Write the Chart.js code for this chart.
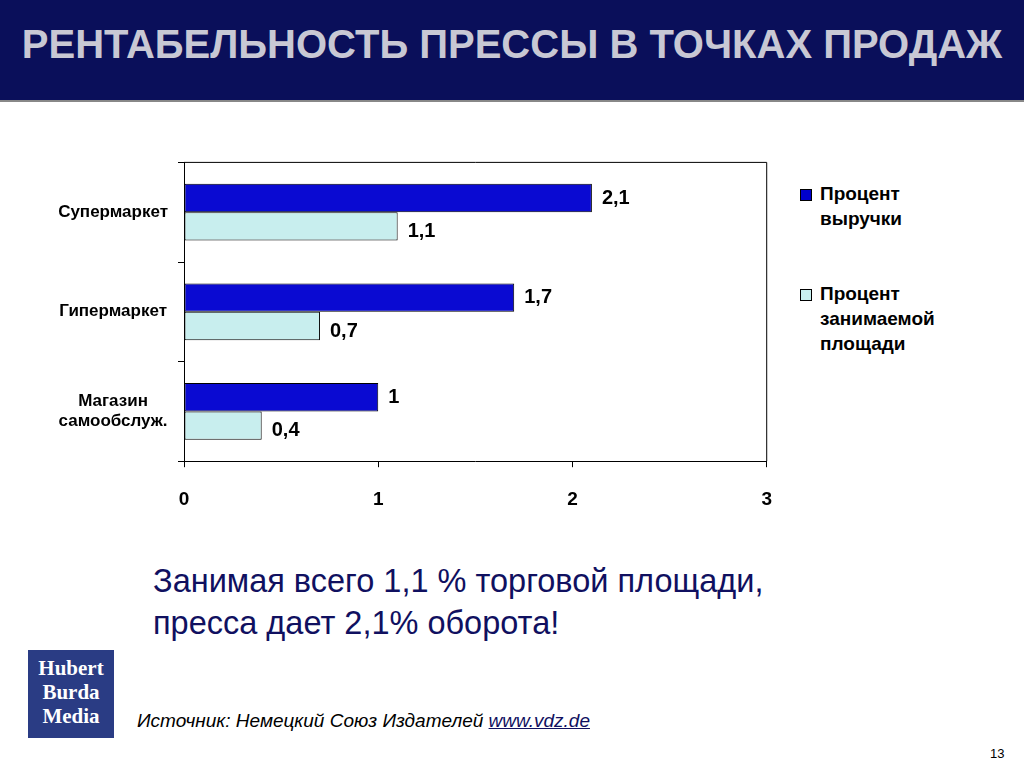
<!DOCTYPE html>
<html><head><meta charset="utf-8">
<script src="https://cdn.jsdelivr.net/npm/chart.js@4"></script>
<style>
body{margin:0;width:1024px;height:768px;background:#fff;font-family:"Liberation Sans",Arial,sans-serif;position:relative;overflow:hidden}
#head{position:absolute;left:0;top:0;width:1024px;height:100px;background:#0a0f5a;border-bottom:2px solid #888}
#head div{position:absolute;left:0;width:1024px;top:22px;text-align:center;color:#c8c8d4;font-weight:bold;font-size:40px}
#wrap{position:absolute;left:20px;top:132px;width:773px;height:400px}
#legend{position:absolute;left:800px;top:181px;font-weight:bold;font-size:19px;line-height:25px;color:#000}
.it{position:relative;padding-left:20px;margin-bottom:50px}
.sw{position:absolute;left:0;top:8px;width:10px;height:10px;border:1px solid #000}
#note{position:absolute;left:153px;top:560px;font-size:32.5px;line-height:42px;color:#101060}
#logo{position:absolute;left:28px;top:650px;width:86px;height:88px;background:#2a3c84;color:#fff;font-family:"Liberation Serif",serif;font-weight:bold;font-size:21px;line-height:24px;text-align:center;padding-top:6px;box-sizing:border-box}
#src{position:absolute;left:137px;top:710px;font-style:italic;font-size:19px;color:#000}
#src u{color:#101060}
#pg{position:absolute;left:990px;top:746px;font-size:13px}
</style></head><body>
<div id="head"><div>РЕНТАБЕЛЬНОСТЬ ПРЕССЫ В ТОЧКАХ ПРОДАЖ</div></div>
<div id="wrap"><canvas id="c" width="773" height="400"></canvas></div>
<div id="legend">
<div class="it"><span class="sw" style="background:#0000cc"></span>Процент<br>выручки</div>
<div class="it"><span class="sw" style="background:#c8f0f0"></span>Процент<br>занимаемой<br>площади</div>
</div>
<div id="note">Занимая всего 1,1 % торговой площади,<br>пресса дает 2,1% оборота!</div>
<div id="logo">Hubert<br>Burda<br>Media</div>
<div id="src">Источник: Немецкий Союз Издателей <u>www.vdz.de</u></div>
<div id="pg">13</div>
<script>
const categories = [["Супермаркет"], ["Гипермаркет"], ["Магазин", "самообслуж."]];
const revenueShare = [2.1, 1.7, 1];
const areaShare = [1.1, 0.7, 0.4];
const xTicks = [0, 1, 2, 3];

const ctx = document.getElementById("c");

const labelPlugin = {
  id: "vals",
  afterDatasetsDraw(chart) {
    const c = chart.ctx;
    c.save();
    c.font = "bold 20px 'Liberation Sans', Arial";
    c.fillStyle = "#000";
    c.textBaseline = "middle";
    chart.data.datasets.forEach((ds, i) => {
      chart.getDatasetMeta(i).data.forEach((bar, j) => {
        const t = String(ds.data[j]).replace(".", ",");
        c.fillText(t, bar.x + 10, bar.y + (i === 0 ? 0 : 5));
      });
    });
    c.restore();
  }
};

const plotBorder = {
  id: "border",
  afterDraw(chart) {
    const a = chart.chartArea, c = chart.ctx;
    c.save();
    c.strokeStyle = "#000";
    c.lineWidth = 1;
    c.beginPath();
    c.moveTo(a.left, a.top); c.lineTo(a.right, a.top); c.lineTo(a.right, a.bottom);
    c.stroke();
    c.restore();
  }
};

new Chart(ctx, {
  type: "bar",
  data: {
    labels: categories,
    datasets: [
      { label: "Процент выручки", data: revenueShare, backgroundColor: "#0a0ad2", borderColor: "#000", borderWidth: 1, borderSkipped: false },
      { label: "Процент занимаемой площади", data: areaShare, backgroundColor: "#c8eeee", borderColor: "#000", borderWidth: 1, borderSkipped: false }
    ]
  },
  options: {
    indexAxis: "y",
    responsive: false,
    animation: false,
    layout: { padding: { top: 0, right: 4 } },
    datasets: { bar: { categoryPercentage: 0.57, barPercentage: 1 } },
    plugins: { legend: { display: false }, tooltip: { enabled: false } },
    scales: {
      x: {
        min: 0, max: 3,
        afterBuildTicks(s) { s.ticks = xTicks.map(v => ({ value: v })); },
        grid: { drawOnChartArea: false, color: "#000", tickLength: 6 },
        border: { color: "#000" },
        ticks: { color: "#000", font: { size: 19, weight: "bold", family: "'Liberation Sans', Arial" }, padding: 21 }
      },
      y: {
        afterFit(s) { s.width = 164; },
        grid: { drawOnChartArea: false, color: "#000", tickLength: 6, offset: true },
        border: { color: "#000" },
        ticks: { color: "#000", crossAlign: "center", font: { size: 17, weight: "bold", family: "'Liberation Sans', Arial" }, padding: 10 }
      }
    }
  },
  plugins: [labelPlugin, plotBorder]
});
</script>
</body></html>
